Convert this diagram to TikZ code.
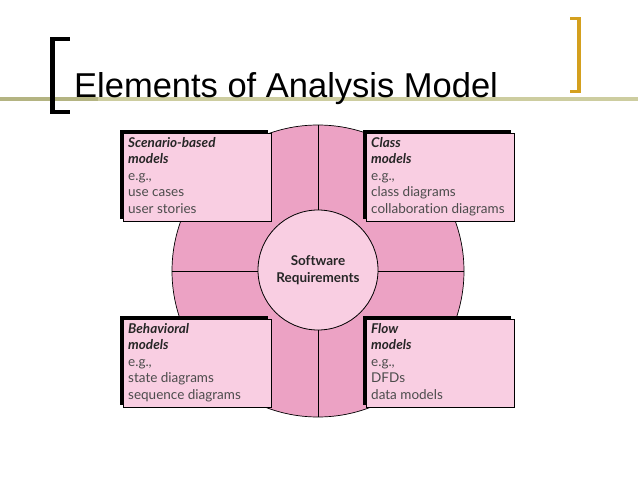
\documentclass[tikz,border=0pt]{standalone}
\usepackage{fontspec}
\setmainfont{Liberation Sans}
\newfontfamily\boxfont{Lato}[Ligatures=NoCommon]
\newcommand{\bh}[1]{{\bfseries\itshape\color{black!85}#1}}
\begin{document}
\begin{tikzpicture}[x=1pt,y=-1pt,
  mbox/.style={draw=black,line width=0.6pt,fill=boxpink},
  btxt/.style={anchor=north west,inner sep=0pt,align=left,font=\boxfont\fontsize{13.5}{16.5}\selectfont,text=black!70}]
\definecolor{outerpink}{RGB}{236,162,196}
\definecolor{boxpink}{RGB}{249,206,226}
\definecolor{olive}{RGB}{205,205,160}
\definecolor{olived}{RGB}{180,180,130}
\definecolor{gold}{RGB}{212,160,30}
\useasboundingbox (0,0) rectangle (638,479);
% title decoration
\fill[olive] (0,97) rectangle (638,101);
\fill[olived] (0,97) rectangle (98,101);
\fill[gold] (577,17) rectangle (581,93);
\fill[gold] (570,17) rectangle (581,20);
\fill[gold] (570,90) rectangle (581,93);
\fill[black] (50,37) rectangle (55,114);
\fill[black] (50,37) rectangle (70,41);
\fill[black] (50,110) rectangle (70,114);
\node[anchor=base west,inner sep=0pt,font=\fontsize{34.5}{34.5}\selectfont] (title) at (74,97) {Elements of Analysis Model};
% circle
\node[circle,draw=black,line width=0.7pt,fill=outerpink,minimum size=292pt,inner sep=0pt] (outer) at (318,271) {};
\draw[line width=0.7pt] (outer.north) -- (outer.south);
\draw[line width=0.7pt] (outer.west) -- (outer.east);
\node[circle,draw=black,line width=0.8pt,fill=boxpink,minimum size=120pt,inner sep=0pt,align=center,font=\boxfont\bfseries\fontsize{13.5}{17}\selectfont,text=black!85] (core) at (318,270) {Software\\Requirements};
% boxes
\foreach \x/\y in {123/133, 366/133, 123/319, 366/319}{
  \fill[black] (\x-3,\y-3) rectangle (\x+145,\y+86);
  \draw[mbox] (\x,\y) rectangle (\x+148,\y+88);
}
\node[btxt] (t1) at (128,137) {\bh{Scenario-based}\\\bh{models}\\e.g.,\\use cases\\user stories};
\node[btxt] (t2) at (371,137) {\bh{Class}\\\bh{models}\\e.g.,\\class diagrams\\collaboration diagrams};
\node[btxt] (t3) at (128,323) {\bh{Behavioral}\\\bh{models}\\e.g.,\\state diagrams\\sequence diagrams};
\node[btxt] (t4) at (371,323) {\bh{Flow}\\\bh{models}\\e.g.,\\DFDs\\data models};
\end{tikzpicture}
\end{document}
